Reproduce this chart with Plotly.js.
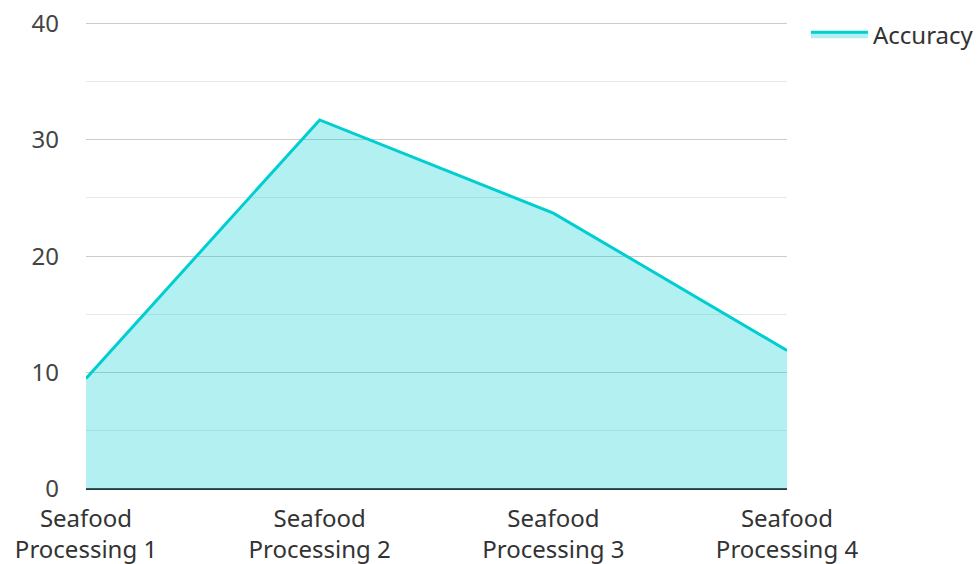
<!DOCTYPE html>
<html><head><meta charset="utf-8">
<script src="https://cdn.plot.ly/plotly-3.0.1.min.js"></script>
<style>html,body{margin:0;padding:0;background:#fff;overflow:hidden}#c{width:977px;height:564px}</style>
</head><body><div id="c"></div>
<script>
const categories = ["Seafood<br>Processing 1","Seafood<br>Processing 2","Seafood<br>Processing 3","Seafood<br>Processing 4"];
const accuracy = [9.5, 31.7, 23.7, 11.9];
const seriesName = "Accuracy";
const yTicks = [0, 10, 20, 30, 40];

const fam = "Noto Sans, Open Sans, sans-serif";
Plotly.newPlot("c", [{
  x: categories, y: accuracy, name: seriesName, type: "scatter", mode: "lines",
  fill: "tozeroy", fillcolor: "rgba(0,206,209,0.3)",
  line: {color: "#00CED1", width: 3}
}], {
  width: 977, height: 564,
  margin: {l: 86, r: 190, t: 21, b: 75, autoexpand: false},
  paper_bgcolor: "#fff", plot_bgcolor: "#fff",
  font: {family: fam, size: 24, color: "#444"},
  showlegend: true,
  legend: {x: 1.027, y: 1.019, xanchor: "left", yanchor: "top", itemwidth: 57,
    font: {size: 24, color: "#333", family: fam}},
  xaxis: {type: "category", range: [0, 3], showgrid: false, zeroline: false, showline: false,
    tickfont: {size: 24, color: "#333", family: fam}, ticks: "", ticklabelstandoff: 13},
  yaxis: {range: [0, 40.2], tickvals: yTicks, showgrid: true, gridcolor: "#cccccc", gridwidth: 1,
    minor: {dtick: 5, showgrid: true, gridcolor: "#e8e8e8", gridwidth: 1},
    zeroline: true, zerolinecolor: "#333", zerolinewidth: 2, showline: false,
    ticks: "", ticklabelstandoff: 26, tickfont: {size: 24, color: "#444", family: fam}}
}, {displayModeBar: false, staticPlot: true});
</script></body></html>
